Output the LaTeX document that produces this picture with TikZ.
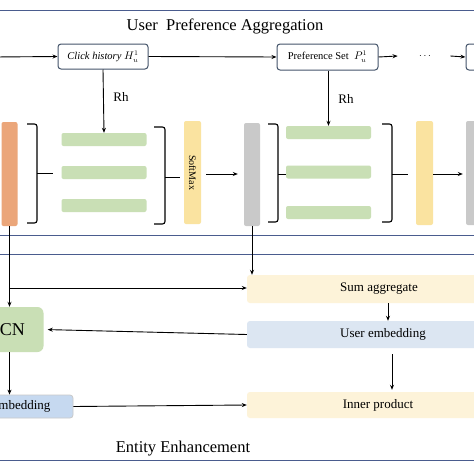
\documentclass[tikz,border=0pt]{standalone}
\usepackage{fontspec}
\setmainfont{Liberation Serif}
\usetikzlibrary{arrows.meta,calc}
\definecolor{secline}{HTML}{4A5C8E}
\definecolor{boxline}{HTML}{44546A}
\definecolor{orangebar}{HTML}{EBA67A}
\definecolor{greenbar}{HTML}{C9DFB5}
\definecolor{yellowbar}{HTML}{FAE3A0}
\definecolor{graybar}{HTML}{C9C9C9}
\definecolor{lightyellow}{HTML}{FDF3D9}
\definecolor{lightblue}{HTML}{DCE6F2}
\definecolor{entblue}{HTML}{C6D9F0}
\tikzset{
  conn/.style={-{Stealth[length=5pt,width=4pt]}, line width=0.9pt, black},
  plainline/.style={line width=0.9pt, black},
  secsep/.style={line width=1pt, secline},
  seqbox/.style={draw=boxline, line width=1pt, rounded corners=3pt, fill=white, inner sep=0pt, font=\fontsize{10.5}{12}\selectfont},
  bar/.style={inner sep=0pt, rounded corners=2pt, minimum width=16pt, minimum height=104pt},
  gbar/.style={inner sep=0pt, rounded corners=2pt, fill=greenbar, minimum width=85pt, minimum height=13pt},
  bigbox/.style={inner sep=0pt, rounded corners=3pt, font=\fontsize{13}{15}\selectfont},
  bracket/.style={line width=1.1pt, black, rounded corners=2.5pt},
  lbl/.style={font=\fontsize{13}{15}\selectfont}
}
\begin{document}
\begin{tikzpicture}[x=1pt,y=-1pt]
\clip (0,0) rectangle (474,474);
\fill[white] (0,0) rectangle (474,474);
% section lines
\draw[secsep] (0,10) -- (474,10);
\draw[secsep] (0,235) -- (474,235);
\draw[secsep] (0,254) -- (474,254);
\draw[secsep] (0,460) -- (474,460);
\node[font=\fontsize{16.5}{18}\selectfont] (title) at (225,26) {User\ \ Preference Aggregation};
\node[font=\fontsize{16.5}{18}\selectfont] (enttitle) at (183,449) {Entity Enhancement};
% top sequence
\coordinate (start) at (-5,57);
\node[seqbox, minimum width=90pt, minimum height=25pt] (click) at (103,56.5) {\textit{Click history} $H_u^1$};
\node[seqbox, minimum width=101pt, minimum height=26pt] (pref) at (327.5,57) {Preference Set\ \ $P_u^1$};
\node[font=\fontsize{10}{12}\selectfont] (dots) at (425,56) {$\cdots$};
\node[seqbox, minimum width=100pt, minimum height=26pt] (next) at (516,57) {};
\draw[conn] (start) -- (click.west);
\draw[conn] (click.east) -- (pref.west);
\draw[conn] (pref.east) -- ([xshift=-18pt]dots.west);
\draw[conn] ([xshift=16pt]dots.east) -- (next.west);
% stage 1
\node[bar, fill=orangebar] (orange) at (9.5,174) {};
\node[gbar] (g11) at (104,139.5) {};
\node[gbar] (g12) at (104,172.5) {};
\node[gbar] (g13) at (104,205.5) {};
\node[bar, fill=yellowbar, minimum width=17pt, minimum height=103pt] (soft) at (192.5,172.5) {};
\node[rotate=-90, font=\fontsize{10}{11}\selectfont] (softtxt) at (soft) {SoftMax};
\draw[conn] (click.south) -- (g11.north);
\node[lbl] (rh1) at (121,97) {Rh};
\draw[bracket] (27,124) -- (37,124) -- (37,223) -- (27,223);
\draw[plainline] (37,173) -- (53,173);
\draw[bracket] (154,127) -- (165,127) -- (165,224) -- (154,224);
\draw[plainline] (165,177) -- (180,177);
% stage 2
\node[bar, fill=graybar, minimum height=103pt] (gray1) at (252,174.5) {};
\draw[conn, shorten <=5pt, shorten >=6pt] (soft.east |- 0,174) -- (gray1.west |- 0,174);
\node[gbar] (g21) at (328.5,132.5) {};
\node[gbar] (g22) at (328.5,172) {};
\node[gbar] (g23) at (328.5,212.5) {};
\draw[conn] (pref.south -| g21.north) -- (g21.north);
\node[lbl] (rh2) at (346,99) {Rh};
\draw[bracket] (268,124) -- (278,124) -- (278,222) -- (268,222);
\draw[plainline] (278,174) -- (286,174);
\draw[bracket] (382,124) -- (392,124) -- (392,222) -- (382,222);
\draw[plainline] (392,174) -- (408,174);
\node[bar, fill=yellowbar, minimum width=17pt] (yellow2) at (424.5,173) {};
\node[bar, fill=graybar] (gray2) at (474,173) {};
\draw[conn, shorten >=3pt] (yellow2.east |- 0,174) -- (gray2.west |- 0,174);
% bottom section
\node[bigbox, fill=lightyellow, minimum width=264pt, minimum height=28pt] (sum) at (379,289) {Sum aggregate};
\node[bigbox, fill=lightblue, minimum width=272pt, minimum height=27pt] (user) at (383,334.5) {User embedding};
\node[bigbox, fill=lightyellow, minimum width=262pt, minimum height=26pt] (inner) at (378,405) {Inner product};
\node[bigbox, fill=greenbar, rounded corners=6pt, minimum width=68pt, minimum height=45pt] (gcn) at (9.5,329.5) {};
\node[font=\fontsize{18}{20}\selectfont, inner sep=0pt] (gcntxt) at (6,330) {GCN};
\node[bigbox, fill=entblue, draw=graybar, line width=0.8pt, minimum width=138pt, minimum height=23pt] (entity) at (4,406.5) {Entity embedding};
\coordinate (branch) at (9.5,288);
\draw[conn] (orange.south) -- (gcn.north);
\draw[conn] (branch) -- (branch -| sum.west);
\draw[conn] (gray1.south) -- (gray1.south |- sum.north);
\draw[conn] ([xshift=9pt]sum.south) -- ([xshift=9pt]sum.south |- user.north);
\draw[conn, shorten >=4pt] (user.west) -- (gcn.east);
\draw[conn] (gcn.south) -- (gcn.south |- entity.north);
\draw[conn, shorten <=6pt, shorten >=2pt] ([xshift=9pt]user.south) -- ([xshift=9pt]user.south |- inner.north);
\draw[conn] (entity.east) -- (inner.west);
\end{tikzpicture}
\end{document}
